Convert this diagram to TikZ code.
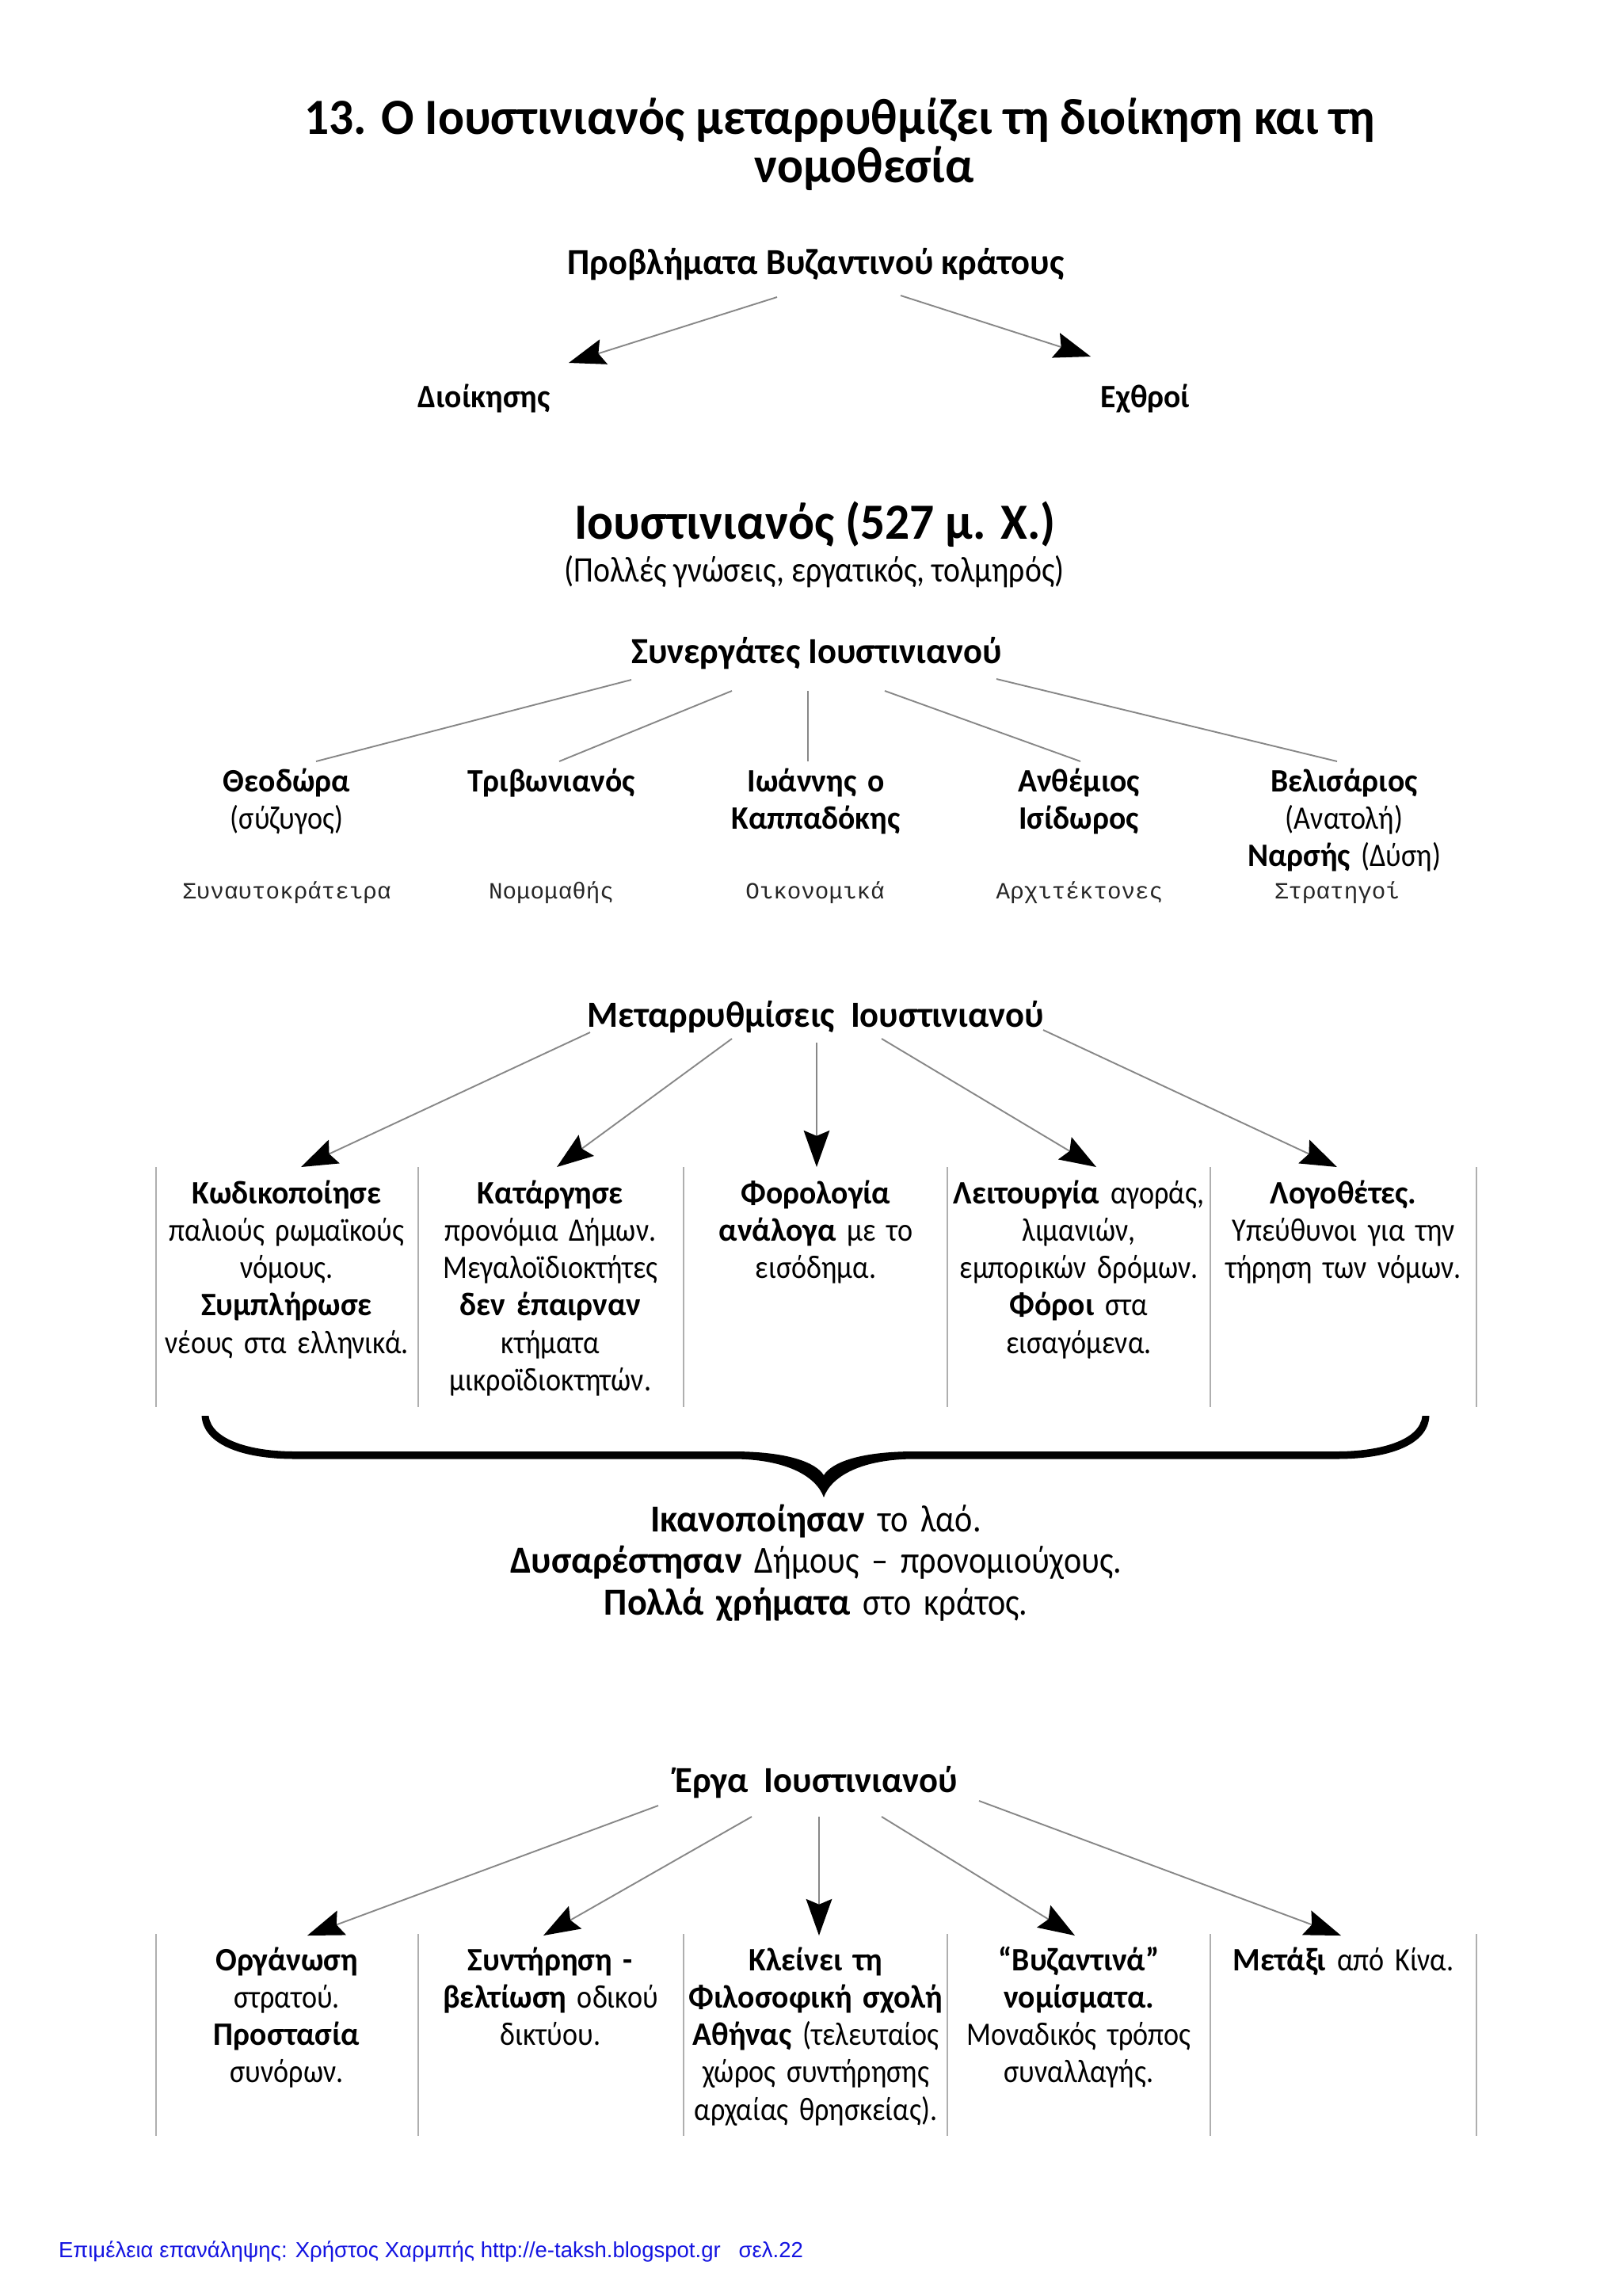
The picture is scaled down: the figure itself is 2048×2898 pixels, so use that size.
\documentclass[tikz,border=0pt]{standalone}
\usepackage{fontspec}
\setmainfont{Carlito}[UprightFeatures={FakeStretch=0.875}, BoldFeatures={FakeStretch=0.96}]
\newfontfamily\monof{Liberation Mono}
\newfontfamily\footf{Liberation Sans}
\usetikzlibrary{arrows.meta}
\definecolor{linegray}{RGB}{135,135,135}
\definecolor{sepgray}{RGB}{175,175,175}
\definecolor{footblue}{RGB}{20,20,225}
\begin{document}
\begin{tikzpicture}[x=0.29067pt, y=-0.29067pt,
  every node/.style={inner sep=0pt, outer sep=0pt},
  conn/.style={draw=linegray, line width=0.55pt},
  arr/.style={conn, -{Stealth[length=13.4pt, width=9.5pt, inset=2pt, color=black]}},
  sep/.style={draw=sepgray, line width=0.45pt},
  hd/.style={anchor=base, font=\bfseries\fontsize{13.5}{15}\selectfont},
  bt/.style={anchor=base, font=\bfseries\fontsize{12}{13.75}\selectfont},
  big/.style={anchor=base, font=\bfseries\fontsize{18.6}{20}\selectfont},
  cell/.style={anchor=base, text width=130pt, align=center, font=\fontsize{12}{13.75}\selectfont},
  mono/.style={anchor=base, font=\monof\fontsize{8.5}{10}\selectfont, text=black!85},
]
\useasboundingbox[fill=white] (0,0) rectangle (2048,2898);

% ---------- title ----------
\node[big] (t1) at (1060,169) {13. Ο Ιουστινιανός μεταρρυθμίζει τη διοίκηση και τη};
\node[big] (t2) at (1091,230) {νομοθεσία};

% ---------- problems ----------
\node[hd] (prob) at (1030,346) {Προβλήματα Βυζαντινού κράτους};
\node[bt] (dioik) at (611,514) {Διοίκησης};
\node[bt] (echth) at (1446,514) {Εχθροί};
\coordinate (pa1) at (981,375); \coordinate (pa2) at (718,458);
\coordinate (pb1) at (1137,373); \coordinate (pb2) at (1377,450);
\draw[arr] (pa1) -- (pa2);
\draw[arr] (pb1) -- (pb2);

% ---------- Justinian ----------
\node[big] (iust) at (1029,680) {Ιουστινιανός (527 μ. Χ.)};
\node[anchor=base, font=\fontsize{13.2}{14.5}\selectfont] (qual) at (1028,734) {(Πολλές γνώσεις, εργατικός, τολμηρός)};

% ---------- collaborators ----------
\node[hd] (syn) at (1031,837) {Συνεργάτες Ιουστινιανού};
\node[cell] (c1) at (362,999) {\textbf{Θεοδώρα}\\(σύζυγος)};
\node[cell] (c2) at (696,999) {\textbf{Τριβωνιανός}};
\node[cell] (c3) at (1030,999) {\textbf{Ιωάννης ο}\\\textbf{Καππαδόκης}};
\node[cell] (c4) at (1362,999) {\textbf{Ανθέμιος}\\\textbf{Ισίδωρος}};
\node[cell] (c5) at (1697,999) {\textbf{Βελισάριος}\\(Ανατολή)\\\textbf{Ναρσής} (Δύση)};
\node[mono] (m1) at (362,1134) {Συναυτοκράτειρα};
\node[mono] (m2) at (696,1134) {Νομομαθής};
\node[mono] (m3) at (1029,1134) {Οικονομικά};
\node[mono] (m4) at (1363,1134) {Αρχιτέκτονες};
\node[mono] (m5) at (1688,1134) {Στρατηγοί};
\coordinate (s1a) at (797,858);  \coordinate (s1b) at (399,961);
\coordinate (s2a) at (924,872);  \coordinate (s2b) at (706,961);
\coordinate (s3a) at (1020,872); \coordinate (s3b) at (1020,961);
\coordinate (s4a) at (1117,872); \coordinate (s4b) at (1364,961);
\coordinate (s5a) at (1258,857); \coordinate (s5b) at (1688,961);
\foreach \i in {1,...,5} {\draw[conn] (s\i a) -- (s\i b);}

% ---------- reforms ----------
\node[hd] (metar) at (1030,1296) {Μεταρρυθμίσεις\ \ Ιουστινιανού};
\coordinate (r1a) at (745,1303);  \coordinate (r1b) at (380,1473);
\coordinate (r2a) at (924,1311);  \coordinate (r2b) at (703,1473);
\coordinate (r3a) at (1031,1316); \coordinate (r3b) at (1031,1473);
\coordinate (r4a) at (1113,1311); \coordinate (r4b) at (1384,1473);
\coordinate (r5a) at (1317,1300); \coordinate (r5b) at (1688,1473);
\foreach \i in {1,...,5} {\draw[arr] (r\i a) -- (r\i b);}
\foreach \x [count=\k] in {197,528,863,1196,1528,1864} {
  \coordinate (rt\k) at (\x,1473); \coordinate (rb\k) at (\x,1776);
  \draw[sep] (rt\k) -- (rb\k);}
\node[cell] (k1) at (362,1519) {\textbf{Κωδικοποίησε}\\παλιούς ρωμαϊκούς\\νόμους.\\\textbf{Συμπλήρωσε}\\νέους στα ελληνικά.};
\node[cell] (k2) at (695,1519) {\textbf{Κατάργησε}\\προνόμια Δήμων.\\Μεγαλοϊδιοκτήτες\\\textbf{δεν έπαιρναν}\\κτήματα\\μικροϊδιοκτητών.};
\node[cell] (k3) at (1030,1519) {\textbf{Φορολογία}\\\textbf{ανάλογα} με το\\εισόδημα.};
\node[cell] (k4) at (1362,1519) {\textbf{Λειτουργία} αγοράς,\\λιμανιών,\\εμπορικών δρόμων.\\\textbf{Φόροι} στα\\εισαγόμενα.};
\node[cell] (k5) at (1696,1519) {\textbf{Λογοθέτες.}\\Υπεύθυνοι για την\\τήρηση των νόμων.};

% ---------- brace ----------
\coordinate (bl) at (259,1787); \coordinate (bm) at (1040,1890); \coordinate (br) at (1800,1787);
\fill[black]
  (254.5,1787) .. controls (257,1826) and (312,1841.5) .. (372,1841.5) -- (925,1841.5)
  .. controls (990,1841.5) and (1030,1862) .. (bm)
  .. controls (1050,1862) and (1090,1841.5) .. (1155,1841.5) -- (1688,1841.5)
  .. controls (1748,1841.5) and (1803,1826) .. (1804.5,1787)
  -- (1795.5,1787)
  .. controls (1793,1818) and (1742,1832) .. (1688,1832) -- (1155,1832)
  .. controls (1085,1832) and (1050,1846) .. (1040,1862)
  .. controls (1030,1846) and (995,1832) .. (925,1832) -- (372,1832)
  .. controls (318,1832) and (267,1818) .. (263.5,1787) -- cycle;
\node[anchor=base, text width=400pt, align=center, font=\fontsize{14}{15.35}\selectfont] (res) at (1030,1933)
  {\textbf{Ικανοποίησαν} το λαό.\\\textbf{Δυσαρέστησαν} Δήμους – προνομιούχους.\\\textbf{Πολλά χρήματα} στο κράτος.};

% ---------- works ----------
\node[hd] (erga) at (1031,2262) {Έργα\ \ Ιουστινιανού};
\coordinate (w1a) at (831,2279);  \coordinate (w1b) at (388,2443);
\coordinate (w2a) at (949,2293);  \coordinate (w2b) at (686,2443);
\coordinate (w3a) at (1034,2293); \coordinate (w3b) at (1034,2443);
\coordinate (w4a) at (1113,2293); \coordinate (w4b) at (1357,2443);
\coordinate (w5a) at (1236,2273); \coordinate (w5b) at (1693,2443);
\foreach \i in {1,...,5} {\draw[arr] (w\i a) -- (w\i b);}
\foreach \x [count=\k] in {197,528,863,1196,1528,1864} {
  \coordinate (wt\k) at (\x,2441); \coordinate (wb\k) at (\x,2696);
  \draw[sep] (wt\k) -- (wb\k);}
\node[cell] (e1) at (362,2487) {\textbf{Οργάνωση}\\στρατού.\\\textbf{Προστασία}\\συνόρων.};
\node[cell] (e2) at (695,2487) {\textbf{Συντήρηση -}\\\textbf{βελτίωση} οδικού\\δικτύου.};
\node[cell] (e3) at (1030,2487) {\textbf{Κλείνει τη}\\\textbf{Φιλοσοφική σχολή}\\\textbf{Αθήνας} (τελευταίος\\χώρος συντήρησης\\αρχαίας θρησκείας).};
\node[cell] (e4) at (1362,2487) {\textbf{“Βυζαντινά”}\\\textbf{νομίσματα.}\\Μοναδικός τρόπος\\συναλλαγής.};
\node[cell] (e5) at (1696,2487) {\textbf{Μετάξι} από Κίνα.};

% ---------- footer ----------
\node[anchor=base west, font=\footf\fontsize{8}{10}\selectfont, text=footblue] (foot) at (74,2849)
  {Επιμέλεια επανάληψης: Χρήστος Χαρμπής http://e-taksh.blogspot.gr\ \ \ σελ.22};
\end{tikzpicture}
\end{document}
